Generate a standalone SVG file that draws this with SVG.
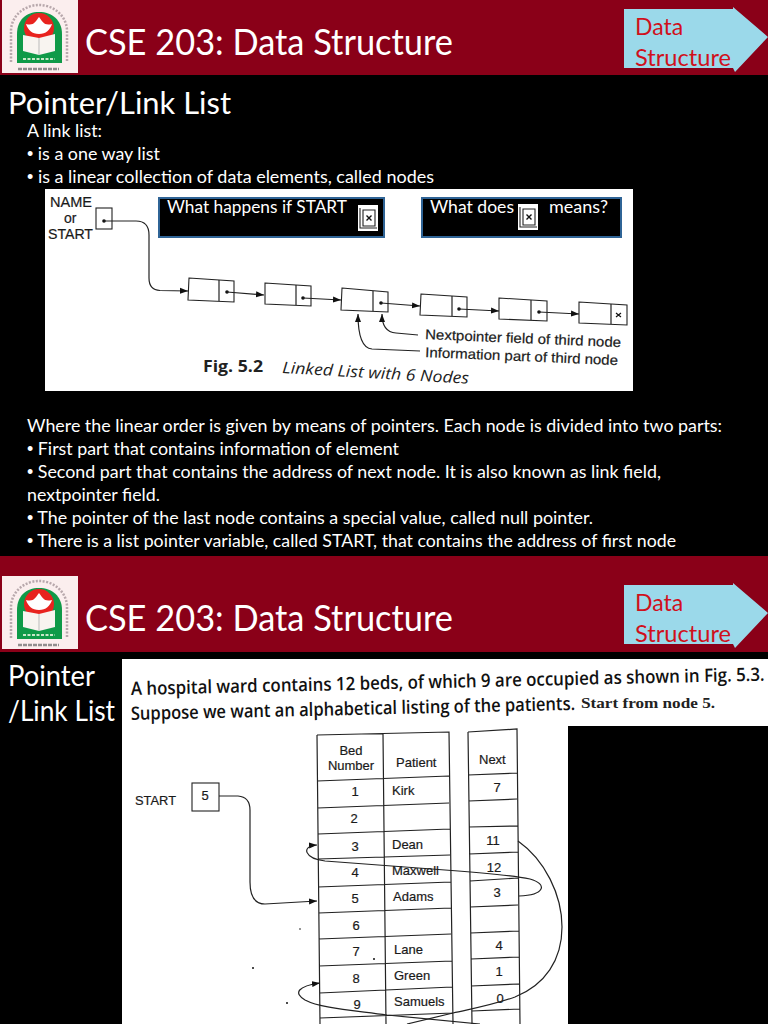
<svg xmlns="http://www.w3.org/2000/svg" xmlns:xlink="http://www.w3.org/1999/xlink" width="768" height="1024" viewBox="0 0 768 1024">
<style>
.title{font:36px Lato,"Open Sans",sans-serif;fill:#fff}
.tag{font:23px Lato,"Open Sans",sans-serif;fill:#d0101c}
.h{font:31px Lato,"Open Sans",sans-serif;fill:#fff}
.b{font:17.5px Lato,"Open Sans",sans-serif;fill:#fff}
.bu{font-family:"Liberation Sans",Arial,sans-serif}
.s{font:500 14px "Liberation Sans",Arial,sans-serif;fill:#1a1a1a;stroke:#1a1a1a;stroke-width:.2}
.t{font:500 13px "Liberation Sans",Arial,sans-serif;fill:#1a1a1a;stroke:#1a1a1a;stroke-width:.2}
.p{font:600 18.500px "Open Sans",Lato,sans-serif;fill:#111}
.l{fill:none;stroke:#222;stroke-width:1.2}
.n{fill:#fff;stroke:#222;stroke-width:1.1}
.c{fill:#000;stroke:#2f6496;stroke-width:2}
.d{fill:#111}
</style>
<defs>
<marker id="a" markerWidth="9" markerHeight="7" refX="8" refY="3.5" orient="auto" markerUnits="userSpaceOnUse"><path d="M0 0.5L8 3.5L0 6.5Z" fill="#111"/></marker>
<g id="logo">
<rect x="2" y="0" width="76" height="73" fill="#fbeeee"/>
<path d="M11 62V31A28 26 0 0 1 67 31V62" fill="none" stroke="#9b8a90" stroke-width="2.500" stroke-dasharray="2 1.500" opacity=".7"/>
<path d="M17 63V34C17 20 26 12 39 12S62 20 62 34V63Z" fill="#0f9a48"/>
<circle cx="39" cy="28" r="15" fill="#e8231f"/>
<path d="M39 17C43 22 44 26 52 24C50 30 46 34 39 34C32 34 28 30 26 24C34 26 35 22 39 17Z" fill="#fff"/>
<path d="M23 35L39 38L55 34V51L39 55L23 51Z" fill="#f8f4f0"/>
<path d="M39 38V55" stroke="#bbb" stroke-width="1"/>
<path d="M23 59H55" stroke="#c8e8c8" stroke-width="2" stroke-dasharray="3 1.500"/>
<path d="M18 69H59" stroke="#777" stroke-width="2.500" stroke-dasharray="4 1" opacity=".8"/>
</g>
<g id="arrowshape"><path d="M624 9H733V7L768 37L735 72L733 68H624Z" fill="#9bd9ea"/></g>
<g id="xicon"><path d="M0 0H20V26H0Z" fill="#fff"/><path d="M2 3V23H19M5 5H17V21H5Z" fill="none" stroke="#222" stroke-width="1.1"/><path d="M8.500 10.500L13.500 15.500M13.500 10.500L8.500 15.500" stroke="#111" stroke-width="1.400"/></g>
</defs>
<rect width="768" height="1024" fill="#000"/>

<g id="slide1-header">
<rect width="768" height="75" fill="#8a0018"/>
<use xlink:href="#logo" href="#logo"/>
<text class="title" x="85" y="55" textLength="368" lengthAdjust="spacingAndGlyphs">CSE 203: Data Structure</text>
<use xlink:href="#arrowshape" href="#arrowshape"/>
<text class="tag" x="635" y="35">Data</text>
<text class="tag" x="635" y="66" textLength="96" lengthAdjust="spacingAndGlyphs">Structure</text>
</g>

<g id="slide1-text">
<text class="h" x="8" y="114" textLength="223" lengthAdjust="spacingAndGlyphs">Pointer/Link List</text>
<text class="b" x="27" y="137" textLength="75" lengthAdjust="spacingAndGlyphs">A link list:</text>
<text class="b" x="27" y="160" textLength="133" lengthAdjust="spacingAndGlyphs"><tspan class="bu">•</tspan> is a one way list</text>
<text class="b" x="27" y="183" textLength="407" lengthAdjust="spacingAndGlyphs"><tspan class="bu">•</tspan> is a linear collection of data elements, called nodes</text>
<text class="b" x="27" y="432" textLength="695" lengthAdjust="spacingAndGlyphs">Where the linear order is given by means of pointers. Each node is divided into two parts:</text>
<text class="b" x="27" y="455" textLength="372" lengthAdjust="spacingAndGlyphs"><tspan class="bu">•</tspan> First part that contains information of element</text>
<text class="b" x="27" y="478" textLength="634" lengthAdjust="spacingAndGlyphs"><tspan class="bu">•</tspan> Second part that contains the address of next node. It is also known as link field,</text>
<text class="b" x="27" y="501" textLength="133" lengthAdjust="spacingAndGlyphs">nextpointer field.</text>
<text class="b" x="27" y="524" textLength="566" lengthAdjust="spacingAndGlyphs"><tspan class="bu">•</tspan> The pointer of the last node contains a special value, called null pointer.</text>
<text class="b" x="27" y="547" textLength="649" lengthAdjust="spacingAndGlyphs"><tspan class="bu">•</tspan> There is a list pointer variable, called START, that contains the address of first node</text>
</g>

<rect id="figure-5-2" x="45" y="189" width="588" height="202" fill="#fff"/>
<g id="fig52-labels">
<text class="s" x="50" y="207" textLength="42" lengthAdjust="spacingAndGlyphs">NAME</text>
<text class="s" x="64" y="223">or</text>
<text class="s" x="48" y="239" textLength="45" lengthAdjust="spacingAndGlyphs">START</text>
<text x="203" y="372" style="font:700 16.500px 'Open Sans',sans-serif;fill:#222" textLength="60" lengthAdjust="spacingAndGlyphs">Fig. 5.2</text>
<text transform="translate(282 373) rotate(3.3)" style="font:italic 16px 'Open Sans',sans-serif;fill:#222" textLength="187" lengthAdjust="spacingAndGlyphs">Linked List with 6 Nodes</text>
<text transform="translate(425 339) rotate(2.4)" class="s" textLength="196" lengthAdjust="spacingAndGlyphs">Nextpointer field of third node</text>
<text transform="translate(425 357) rotate(2.4)" class="s" textLength="193" lengthAdjust="spacingAndGlyphs">Information part of third node</text>
</g>
<g id="start-node"><rect class="n" x="96" y="208" width="16" height="21"/><circle class="d" cx="104" cy="221" r="1.800"/></g>
<g id="node1"><path class="n" d="M189 278L234 281V302L188 300Z"/><path class="l" d="M219 280V301"/><circle class="d" cx="227" cy="292" r="1.800"/></g>
<g id="node2"><path class="n" d="M265 283L311 286V306L265 304Z"/><path class="l" d="M296 285V305"/><circle class="d" cx="303" cy="298" r="1.800"/></g>
<g id="node3"><path class="n" d="M342 288L388 292V312L341 310Z"/><path class="l" d="M373 291V311"/><circle class="d" cx="381" cy="303" r="1.800"/></g>
<g id="node4"><path class="n" d="M421 294L467 297V317L420 315Z"/><path class="l" d="M452 296V316"/><circle class="d" cx="459" cy="309" r="1.800"/></g>
<g id="node5"><path class="n" d="M499 298L547 301V321L499 319Z"/><path class="l" d="M531 300V320"/><circle class="d" cx="539" cy="312" r="1.800"/></g>
<g id="node6"><path class="n" d="M579 302L627 305V325L579 323Z"/><path class="l" d="M611 304V324"/><path d="M616 313L621 317M621 313L616 317" stroke="#111" stroke-width="1.200"/></g>
<g id="fig52-connectors">
<path class="l" marker-end="url(#a)" d="M104 221H136Q149 221 149 235V278Q149 290 160 290.500L188 291"/>
<path class="l" marker-end="url(#a)" d="M227 292L264 295"/>
<path class="l" marker-end="url(#a)" d="M303 298L341 300"/>
<path class="l" marker-end="url(#a)" d="M381 303L420 306"/>
<path class="l" marker-end="url(#a)" d="M459 309L499 311"/>
<path class="l" marker-end="url(#a)" d="M539 312L579 314"/>
<path class="l" marker-end="url(#a)" d="M418 335L396 333Q382 332 382 314"/>
<path class="l" marker-end="url(#a)" d="M420 351L372 349Q358 348 358 314"/>
</g>
<g id="callout1">
<rect class="c" x="159" y="198" width="225" height="39"/>
<text class="b" x="167" y="213" textLength="180" lengthAdjust="spacingAndGlyphs">What happens if START</text>
<use xlink:href="#xicon" href="#xicon" transform="translate(358 205)"/>
</g>
<g id="callout2">
<rect class="c" x="422" y="198" width="199" height="39"/>
<text class="b" x="430" y="213" textLength="84" lengthAdjust="spacingAndGlyphs">What does</text>
<use xlink:href="#xicon" href="#xicon" transform="translate(518 204)"/>
<text class="b" x="549" y="213" textLength="59" lengthAdjust="spacingAndGlyphs">means?</text>
</g>

<g id="slide2-header">
<rect y="556" width="768" height="96" fill="#8a0018"/>
<use xlink:href="#logo" href="#logo" transform="translate(0 576)"/>
<text class="title" x="85" y="631" textLength="368" lengthAdjust="spacingAndGlyphs">CSE 203: Data Structure</text>
<use xlink:href="#arrowshape" href="#arrowshape" transform="translate(0 576)"/>
<text class="tag" x="635" y="611">Data</text>
<text class="tag" x="635" y="642" textLength="96" lengthAdjust="spacingAndGlyphs">Structure</text>
</g>
<g id="slide2-text">
<text class="h" style="font-size:28px" x="8" y="686" textLength="87" lengthAdjust="spacingAndGlyphs">Pointer</text>
<text class="h" style="font-size:28px" x="8" y="721" textLength="107" lengthAdjust="spacingAndGlyphs">/Link List</text>
</g>

<rect id="hospital-figure" x="122" y="659" width="646" height="365" fill="#fff"/>
<rect id="figure-mask" x="568" y="726" width="200" height="298" fill="#000"/>
<g id="hospital-text">
<text class="p" transform="translate(131 695) rotate(-1.3) scale(.92 1)" textLength="689" lengthAdjust="spacingAndGlyphs">A hospital ward contains 12 beds, of which 9 are occupied as shown in Fig. 5.3.</text>
<text class="p" transform="translate(131 720) rotate(-1.3) scale(.92 1)" textLength="483" lengthAdjust="spacingAndGlyphs">Suppose we want an alphabetical listing of the patients.</text>
<text x="581" y="708" style="font:700 15px 'Liberation Serif',serif;fill:#222" textLength="134" lengthAdjust="spacingAndGlyphs">Start from node 5.</text>
</g>
<g id="bed-table">
<path class="l" d="M317 735L449 732L453 1024M320 1024L317 735M383 733.500L386 1024M317 781L449 776M317.500 808L449 803M318 834L450 829M318 859L450 855M318 887L451 882M318.500 913L451 908M319 939L451 934M319 966L452 961M319.500 993L452 987M320 1018L453 1013"/>
<text class="t" x="351" y="755" text-anchor="middle">Bed</text>
<text class="t" x="351" y="770" text-anchor="middle">Number</text>
<text class="t" x="396" y="767">Patient</text>
<g text-anchor="middle">
<text class="t" x="355" y="796">1</text>
<text class="t" x="354" y="823">2</text>
<text class="t" x="355" y="851">3</text>
<text class="t" x="355" y="877">4</text>
<text class="t" x="355" y="903">5</text>
<text class="t" x="356" y="930">6</text>
<text class="t" x="356" y="956">7</text>
<text class="t" x="356" y="983">8</text>
<text class="t" x="357" y="1009">9</text>
</g>
<text class="t" x="392" y="795">Kirk</text>
<text class="t" x="392" y="849">Dean</text>
<text class="t" x="392" y="875">Maxwell</text>
<text class="t" x="393" y="901">Adams</text>
<text class="t" x="394" y="954">Lane</text>
<text class="t" x="394" y="980">Green</text>
<text class="t" x="394" y="1006">Samuels</text>
</g>
<g id="next-table">
<path class="l" d="M468 732L517 729L520 1024M472 1024L468 732M468 775L517 773M468.500 801L517 799M469 827L518 826M469 854L518 852M470 881L518 878M470 907L518 905M470.500 933L519 931M471 959L519 957M471 986L519 984M472 1011L520 1009"/>
<text class="t" x="479" y="764">Next</text>
<g text-anchor="middle">
<text class="t" x="497" y="792">7</text>
<text class="t" x="493" y="845">11</text>
<text class="t" x="494" y="872">12</text>
<text class="t" x="497" y="897">3</text>
<text class="t" x="499" y="950">4</text>
<text class="t" x="499" y="976">1</text>
<text class="t" x="500" y="1003">0</text>
</g>
</g>
<g id="start-box">
<text class="t" x="135" y="805" textLength="41" lengthAdjust="spacingAndGlyphs">START</text>
<rect class="n" x="192" y="783" width="27" height="28"/>
<text class="t" x="205" y="800" text-anchor="middle">5</text>
</g>
<g id="hospital-connectors">
<path class="l" marker-end="url(#a)" d="M219 796H238Q250 797 250 810V882Q250 904 265 904L317 901"/>
<path class="l" marker-end="url(#a)" d="M519 896C545 895 548 884 530 879C520 877 500 874 445 870L325 861C305 859 300 846 317 845"/>
<path class="l" d="M518 841C545 860 562 895 562 927C562 960 545 985 515 997C490 1006 470 1009 453 1013L407 1024"/>
<path class="l" marker-end="url(#a)" d="M480 1024L387 1015C350 1010 320 1008 305 1000C293 993 298 986 320 983"/>
<circle class="d" cx="374" cy="959" r="1"/><circle class="d" cx="253" cy="968" r="1"/><circle class="d" cx="287" cy="1003" r="1"/><circle class="d" cx="300" cy="929" r=".8"/>
</g>
</svg>
